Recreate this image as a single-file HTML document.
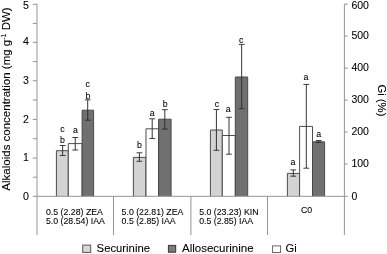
<!DOCTYPE html><html><head><meta charset="utf-8"><title>chart</title><style>html,body{margin:0;padding:0;background:#fff}svg{display:block}text{font-family:"Liberation Sans",sans-serif;fill:#000;stroke:#000;stroke-width:0.08}</style></head><body>
<svg width="387" height="254" viewBox="0 0 387 254">
<rect width="387" height="254" fill="#fff"/>
<g stroke="#949494" stroke-width="1" fill="none">
<line x1="37" y1="3.8" x2="37" y2="235"/>
<line x1="344.4" y1="3.8" x2="344.4" y2="235"/>
<line x1="113.5" y1="196.3" x2="113.5" y2="235"/>
<line x1="190.9" y1="196.3" x2="190.9" y2="235"/>
<line x1="267.5" y1="196.3" x2="267.5" y2="235"/>
<line x1="32.8" y1="4.30" x2="37" y2="4.30"/>
<line x1="32.8" y1="23.40" x2="37" y2="23.40"/>
<line x1="32.8" y1="42.30" x2="37" y2="42.30"/>
<line x1="32.8" y1="61.60" x2="37" y2="61.60"/>
<line x1="32.8" y1="80.70" x2="37" y2="80.70"/>
<line x1="32.8" y1="100.00" x2="37" y2="100.00"/>
<line x1="32.8" y1="119.40" x2="37" y2="119.40"/>
<line x1="32.8" y1="138.70" x2="37" y2="138.70"/>
<line x1="32.8" y1="158.10" x2="37" y2="158.10"/>
<line x1="32.8" y1="177.20" x2="37" y2="177.20"/>
<line x1="344.5" y1="4.10" x2="347.8" y2="4.10"/>
<line x1="344.5" y1="36.10" x2="347.8" y2="36.10"/>
<line x1="344.5" y1="68.10" x2="347.8" y2="68.10"/>
<line x1="344.5" y1="100.10" x2="347.8" y2="100.10"/>
<line x1="344.5" y1="132.10" x2="347.8" y2="132.10"/>
<line x1="344.5" y1="164.10" x2="347.8" y2="164.10"/>
</g>
<text x="28.9" y="8.7" font-size="10.6" text-anchor="end">5</text>
<text x="28.9" y="45.2" font-size="10.6" text-anchor="end">4</text>
<text x="28.9" y="84.3" font-size="10.6" text-anchor="end">3</text>
<text x="28.9" y="123" font-size="10.6" text-anchor="end">2</text>
<text x="28.9" y="161" font-size="10.6" text-anchor="end">1</text>
<text x="28.9" y="200" font-size="10.6" text-anchor="end">0</text>
<text x="351.4" y="8.5" font-size="10.5">600</text>
<text x="351.4" y="39.2" font-size="10.5">500</text>
<text x="351.4" y="71" font-size="10.5">400</text>
<text x="351.4" y="103.2" font-size="10.5">300</text>
<text x="351.4" y="135.2" font-size="10.5">200</text>
<text x="351.4" y="167.4" font-size="10.5">100</text>
<text x="351.4" y="199.6" font-size="10.5">0</text>
<path d="M56.4 196.3V150.7H68.3V196.3" fill="#d3d3d3" stroke="#444" stroke-width="0.95"/>
<path d="M68.3 196.3V143.6H82.1V196.3" fill="#fff" stroke="#444" stroke-width="0.95"/>
<path d="M82.1 196.3V110.2H93.6V196.3" fill="#707070" stroke="#444" stroke-width="0.95"/>
<path d="M133.4 196.3V157.4H146.0V196.3" fill="#d3d3d3" stroke="#444" stroke-width="0.95"/>
<path d="M146.0 196.3V128.8H158.6V196.3" fill="#fff" stroke="#444" stroke-width="0.95"/>
<path d="M158.6 196.3V119.2H171.1V196.3" fill="#707070" stroke="#444" stroke-width="0.95"/>
<path d="M210.4 196.3V130.0H222.3V196.3" fill="#d3d3d3" stroke="#444" stroke-width="0.95"/>
<path d="M222.3 196.3V135.5H235.3V196.3" fill="#fff" stroke="#444" stroke-width="0.95"/>
<path d="M235.3 196.3V77H247.7V196.3" fill="#707070" stroke="#444" stroke-width="0.95"/>
<path d="M287.4 196.3V173.4H299.6V196.3" fill="#d3d3d3" stroke="#444" stroke-width="0.95"/>
<path d="M299.6 196.3V126.4H312.5V196.3" fill="#fff" stroke="#444" stroke-width="0.95"/>
<path d="M312.5 196.3V141.8H324.6V196.3" fill="#707070" stroke="#444" stroke-width="0.95"/>
<line x1="32.8" y1="196.3" x2="347.8" y2="196.3" stroke="#949494" stroke-width="1"/>
<g stroke="#2a2a2a" fill="none">
<path stroke-width="0.95" d="M62.65 145.5V155.5"/><path stroke-width="0.9" d="M59.75 145.5H65.55M59.75 155.5H65.55"/>
<path stroke-width="0.95" d="M75.25 137.5V150"/><path stroke-width="0.9" d="M72.35 137.5H78.15M72.35 150H78.15"/>
<path stroke-width="0.95" d="M87.7 99.9V120.2"/><path stroke-width="0.9" d="M84.80 99.9H90.60M84.80 120.2H90.60"/>
<path stroke-width="0.95" d="M139.4 152.8V161.3"/><path stroke-width="0.9" d="M136.50 152.8H142.30M136.50 161.3H142.30"/>
<path stroke-width="0.95" d="M152.2 118.8V138.5"/><path stroke-width="0.9" d="M149.30 118.8H155.10M149.30 138.5H155.10"/>
<path stroke-width="0.95" d="M164.8 109.7V129.1"/><path stroke-width="0.9" d="M161.90 109.7H167.70M161.90 129.1H167.70"/>
<path stroke-width="0.95" d="M216.4 109.5V150.3"/><path stroke-width="0.9" d="M213.50 109.5H219.30M213.50 150.3H219.30"/>
<path stroke-width="0.95" d="M229.0 117.3V154.2"/><path stroke-width="0.9" d="M226.10 117.3H231.90M226.10 154.2H231.90"/>
<path stroke-width="0.95" d="M241.65 44.4V108.7"/><path stroke-width="0.9" d="M238.75 44.4H244.55M238.75 108.7H244.55"/>
<path stroke-width="0.95" d="M293.3 169.9V176.2"/><path stroke-width="0.9" d="M290.40 169.9H296.20M290.40 176.2H296.20"/>
<path stroke-width="0.95" d="M306.3 84.4V168.2"/><path stroke-width="0.9" d="M303.40 84.4H309.20M303.40 168.2H309.20"/>
<path stroke-width="0.95" d="M318.6 140.5V142.5"/><path stroke-width="0.9" d="M315.70 140.5H321.50M315.70 142.5H321.50"/>
</g>
<text x="62.5" y="131.5" font-size="8.8" text-anchor="middle">c</text>
<text x="62.5" y="143.4" font-size="8.8" text-anchor="middle">b</text>
<text x="75.5" y="133.2" font-size="8.8" text-anchor="middle">a</text>
<text x="87.8" y="86.8" font-size="8.8" text-anchor="middle">c</text>
<text x="87.9" y="98.6" font-size="8.8" text-anchor="middle">b</text>
<text x="139.4" y="147.5" font-size="8.8" text-anchor="middle">b</text>
<text x="152.2" y="116.2" font-size="8.8" text-anchor="middle">a</text>
<text x="165.1" y="107.1" font-size="8.8" text-anchor="middle">b</text>
<text x="217.0" y="106.5" font-size="8.8" text-anchor="middle">c</text>
<text x="228.3" y="112.4" font-size="8.8" text-anchor="middle">a</text>
<text x="241.1" y="43.0" font-size="8.8" text-anchor="middle">c</text>
<text x="292.9" y="165.2" font-size="8.8" text-anchor="middle">a</text>
<text x="305.9" y="79.5" font-size="8.8" text-anchor="middle">a</text>
<text x="318.8" y="136.8" font-size="8.8" text-anchor="middle">a</text>
<text x="46" y="214.7" font-size="8.75">0.5 (2.28) ZEA</text>
<text x="46" y="224.3" font-size="8.75">5.0 (28.54) IAA</text>
<text x="121.6" y="214.7" font-size="8.75">5.0 (22.81) ZEA</text>
<text x="121.6" y="224.3" font-size="8.75">0.5 (2.85) IAA</text>
<text x="199.2" y="214.7" font-size="8.75">5.0 (23.23) KIN</text>
<text x="199.2" y="224.3" font-size="8.75">0.5 (2.85) IAA</text>
<text x="301" y="213.4" font-size="8.75">C0</text>
<rect x="82.7" y="245.1" width="8" height="7.3" fill="#d6d6d6" stroke="#585858" stroke-width="1"/>
<text x="96.6" y="252" font-size="11.3">Securinine</text>
<rect x="168.4" y="245.4" width="7.3" height="6.8" fill="#7a7a7a" stroke="#383838" stroke-width="1"/>
<text x="182" y="252" font-size="11.5">Allosecurinine</text>
<rect x="272.6" y="245.9" width="8" height="6.6" fill="#fff" stroke="#555" stroke-width="0.9"/>
<text x="285.5" y="252" font-size="11.2">Gi</text>
<text transform="translate(10.4,99) rotate(-90)" font-size="11.5" text-anchor="middle">Alkaloids concentration (mg g<tspan font-size="7" dy="-4">-1</tspan><tspan dy="4"> DW)</tspan></text>
<text transform="translate(377.9,100.4) rotate(90)" font-size="11.3" text-anchor="middle">Gi (%)</text>
</svg></body></html>
